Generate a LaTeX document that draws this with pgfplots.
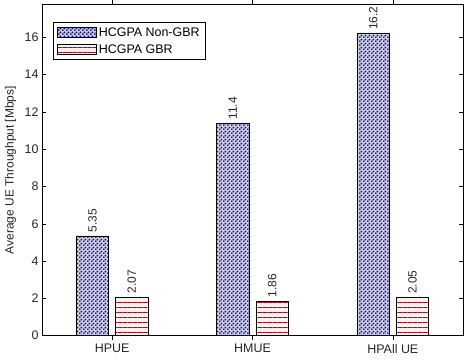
\documentclass[border=0pt]{standalone}
\usepackage{pgfplots}
\pgfplotsset{compat=1.18}
\usepackage{fontspec}
\setmainfont{Liberation Sans}
\usetikzlibrary{patterns,patterns.meta}
\definecolor{dotblue}{RGB}{20,20,110}
\definecolor{linered}{RGB}{135,25,30}
\tikzdeclarepattern{
  name=navydots,
  type=uncolored,
  bounding box={(0bp,0bp) and (3.6bp,3.6bp)},
  tile size={(3.6bp,3.6bp)},
  code={
    \pgfpathcircle{\pgfpoint{0.9bp}{0.9bp}}{1.1bp}
    \pgfpathcircle{\pgfpoint{2.7bp}{2.7bp}}{1.1bp}
    \pgfusepath{fill}
  }
}
\begin{document}
\begin{tikzpicture}
\useasboundingbox (-42bp,-27.3bp) rectangle (432bp,335.7bp);
\begin{axis}[
  scale only axis,
  width=421bp, height=331.2bp,
  at={(0,0)}, anchor=south west,
  xmin=0.5, xmax=3.5, ymin=0, ymax=17.76,
  xtick={1,2,3}, xticklabels={HPUE,HMUE,HPAll UE},
  ytick={0,2,...,16},
  tick align=inside, major tick length=4bp,
  tick pos=both,
  axis line style={line width=0.8pt},
  every tick/.style={black, line width=0.6pt},
  tick label style={font=\fontsize{12.5}{14}\selectfont, black!85},
  /pgf/number format/assume math mode=true,
  ylabel={Average UE Throughput [Mbps]},
  ylabel style={font=\fontsize{12}{14}\selectfont, black!85, at={(axis description cs:-0.061,0.5)}, anchor=south, inner sep=0pt},
  xticklabel style={yshift=-1bp},
  ybar, bar width=0.23,
  nodes near coords,
  point meta=explicit symbolic,
  every node near coord/.append style={rotate=90, anchor=west, font=\fontsize{12}{14}\selectfont, black!85, xshift=0bp},
  legend style={at={(0.026,0.947)}, anchor=north west, draw=black, line width=0.6pt,
    font=\fontsize{12.5}{14}\selectfont, inner xsep=4bp, inner ysep=3bp, row sep=3bp,
    legend cell align=left},
  legend image code/.code={\draw[#1, line width=0.6pt] (0bp,-5bp) rectangle (39bp,5bp);},
]
\addplot[bar shift=-0.14, draw=black, line width=0.6pt, fill={rgb,255:red,205;green,205;blue,240}, postaction={pattern=navydots, pattern color=dotblue}]
  coordinates {(1,5.35) [5.35] (2,11.4) [11.4] (3,16.2) [16.2]};
\addplot[bar shift=0.14, draw=black, line width=0.6pt, fill={rgb,255:red,255;green,238;blue,238}, postaction={pattern={Lines[angle=0, distance=5bp, line width=1bp]}, pattern color=linered}]
  coordinates {(1,2.07) [2.07] (2,1.86) [1.86] (3,2.05) [2.05]};
\legend{HCGPA Non-GBR, HCGPA GBR}
\end{axis}
\end{tikzpicture}
\end{document}
